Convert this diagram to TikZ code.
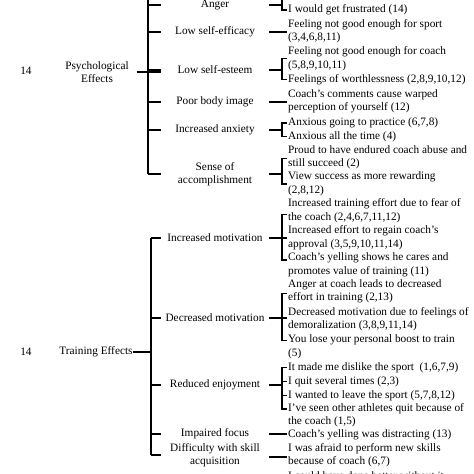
\documentclass[tikz,border=0pt]{standalone}
\usepackage{fontspec}
\setmainfont{Liberation Serif}
\usetikzlibrary{positioning,calc}

\tikzset{
  txt/.style={font=\fontsize{11.3}{13.5}\selectfont},
  item/.style={txt,anchor=west,align=left,inner sep=1pt},
  cat/.style={txt,align=center,inner sep=0pt,minimum width=108pt},
  total/.style={txt,align=center,inner sep=0pt},
  link/.style={line width=1.1pt}
}

\begin{document}
\begin{tikzpicture}[x=1pt,y=-1pt]
    \useasboundingbox (0,0) rectangle (474,474);
    \clip (0,0) rectangle (474,474);

    % totals
    \node[total] (n1) at (26,71) {14};
    \node[total] (psy) at (97,72) {Psychological\\Effects};
    \node[total] (n2) at (26,352) {14};
    \node[total] (trn) at (96,352) {Training Effects};

    \coordinate (pbar) at (148,0);
    \coordinate (tbar) at (151,0);
    \coordinate (jx) at (282,0);

    % psychological
    \node[cat] (ang) at (215,5) {Anger};
    \node[cat] (lse) at (215,32) {Low self-efficacy};
    \node[cat] (lst) at (215,70) {Low self-esteem};
    \node[cat] (pbi) at (215,102) {Poor body image};
    \node[cat] (anx) at (215,130) {Increased anxiety};
    \node[cat] (sen) at (215,174) {Sense of\\accomplishment};

    \node[item] (a2) at (287,10) {I would get frustrated (14)};
    \node[item] (e1) at (287,31.2) {Feeling not good enough for sport\\(3,4,6,8,11)};
    \node[item] (s1) at (287,58.5) {Feeling not good enough for coach\\(5,8,9,10,11)};
    \node[item] (s2) at (287,79.5) {Feelings of worthlessness (2,8,9,10,12)};
    \node[item] (b1) at (287,101.5) {Coach's comments cause warped\\perception of yourself (12)};
    \node[item] (x1) at (287,123) {Anxious going to practice (6,7,8)};
    \node[item] (x2) at (287,136.5) {Anxious all the time (4)};
    \node[item] (c1) at (287,157.5) {Proud to have endured coach abuse and\\still succeed (2)};
    \node[item] (c2) at (287,184) {View success as more rewarding\\(2,8,12)};

    % training
    \node[cat] (imo) at (215,238) {Increased motivation};
    \node[cat] (dmo) at (215,318) {Decreased motivation};
    \node[cat] (ren) at (215,385) {Reduced enjoyment};
    \node[cat] (ifo) at (215,434) {Impaired focus};
    \node[cat] (dsk) at (215,455) {Difficulty with skill\\acquisition};

    \node[item] (im1) at (287,210.5) {Increased training effort due to fear of\\the coach (2,4,6,7,11,12)};
    \node[item] (im2) at (287,237.5) {Increased effort to regain coach's\\approval (3,5,9,10,11,14)};
    \node[item] (im3) at (287,265) {Coach's yelling shows he cares and\\promotes value of training (11)};
    \node[item] (dm1) at (287,291.2) {Anger at coach leads to decreased\\effort in training (2,13)};
    \node[item] (dm2) at (287,319.2) {Decreased motivation due to feelings of\\demoralization (3,8,9,11,14)};
    \node[item] (dm3) at (287,346.7) {You lose your personal boost to train\\(5)};
    \node[item] (re1) at (287,367.5) {It made me dislike the sport~ (1,6,7,9)};
    \node[item] (re2) at (287,381.5) {I quit several times (2,3)};
    \node[item] (re3) at (287,395.5) {I wanted to leave the sport (5,7,8,12)};
    \node[item] (re4) at (287,415) {I've seen other athletes quit because of\\the coach (1,5)};
    \node[item] (if1) at (287,435) {Coach's yelling was distracting (13)};
    \node[item] (ds1) at (287,455.2) {I was afraid to perform new skills\\because of coach (6,7)};
    \node[item] (ds2) at (287,476) {I could have done better without it};

    % left bars
    \draw[link] ([xshift=8pt]psy.east) -- (psy.east -| ang.west);
    \draw[link] ([yshift=12pt]pbar |- ang) -- (pbar |- sen);
    \foreach \c in {ang,lse,lst,pbi,anx,sen}
        \draw[link] (pbar |- \c) -- (\c.west);
    \draw[link] (trn.east) -- (tbar |- trn);
    \draw[link] (tbar |- imo) -- (tbar |- dsk);
    \foreach \c in {imo,dmo,ren,ifo,dsk}
        \draw[link] (tbar |- \c) -- (\c.west);

    % single answers
    \draw[link] (lse.east) -- (lse.east -| e1.west);
    \draw[link] (pbi.east) -- (pbi.east -| b1.west);
    \draw[link] (ifo.east) -- (ifo.east -| if1.west);
    \draw[link] ([yshift=-2pt]dsk.east) -- ([yshift=-2pt]dsk.east -| ds1.west);
    \draw[link] (imo.east) -- (imo.east -| im2.west);
    \draw[link] (dmo.east) -- (dmo.east -| dm2.west);

    % brackets
    \foreach \c in {ang,lst,anx,sen,ren}
        \draw[link] (\c.east) -- (\c.east -| jx);
    \draw[link] (a2.west) -| ([yshift=20pt]jx |- ang);
    \draw[link] (s1.west) -| (jx |- s2.west) -- (s2.west);
    \draw[link] (x1.west) -| (jx |- x2.west) -- (x2.west);
    \draw[link] ([yshift=-1pt]c1.west) -| (jx |- c2.west) -- (c2.west);
    \draw[link] ([yshift=-4pt]im1.west) -| ([yshift=5pt]jx |- im3.west) -- ([yshift=5pt]im3.west);
    \draw[link] ([yshift=-2pt]dm1.west) -| ([yshift=6pt]jx |- dm3.west) -- ([yshift=6pt]dm3.west);
    \draw[link] (re1.west) -| ([yshift=6pt]jx |- re4.west) -- ([yshift=6pt]re4.west);
    \draw[link] (jx |- re2.west) -- (re2.west);
    \draw[link] (jx |- re3.west) -- (re3.west);
\end{tikzpicture}
\end{document}
